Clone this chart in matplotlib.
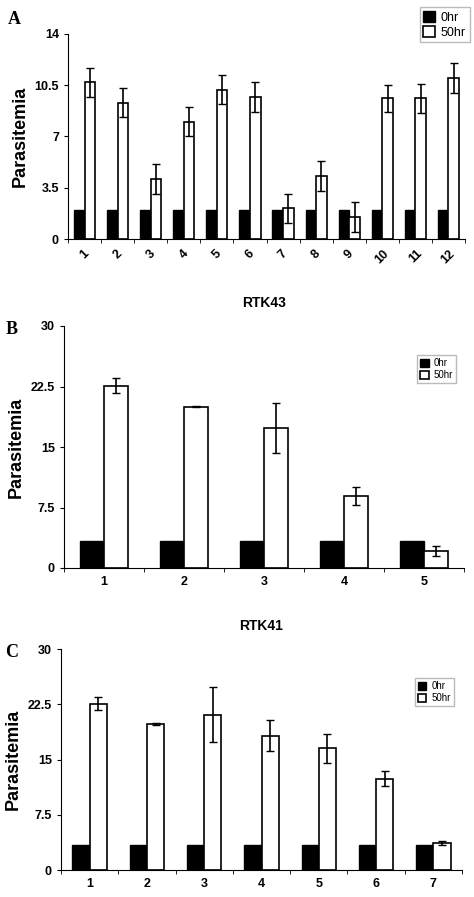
import matplotlib
matplotlib.use("Agg")
import matplotlib.pyplot as plt
import numpy as np

plt.rcParams['font.family'] = ['Liberation Sans', 'DejaVu Sans']

a_labels = [str(i) for i in range(1, 13)]
a_0hr = [2]*12
a_50hr = [10.7, 9.3, 4.1, 8.0, 10.2, 9.7, 2.1, 4.3, 1.5, 9.6, 9.6, 11.0]
a_err = [1.0, 1.0, 1.0, 1.0, 1.0, 1.0, 1.0, 1.0, 1.0, 0.9, 1.0, 1.0]

b_labels = [str(i) for i in range(1, 6)]
b_0hr = [3.3]*5
b_50hr = [22.6, 20.0, 17.3, 8.9, 2.1]
b_err = [0.9, 0.1, 3.1, 1.1, 0.6]

c_labels = [str(i) for i in range(1, 8)]
c_0hr = [3.4]*7
c_50hr = [22.6, 19.8, 21.1, 18.2, 16.5, 12.4, 3.7]
c_err = [0.9, 0.1, 3.7, 2.1, 2.0, 1.0, 0.3]

W, H = 474, 897
fig = plt.figure(figsize=(W/100, H/100), dpi=100)

def panel(rect_px, labels, v0, v50, err, ymax, ticks, letter, letter_px, title, rot, legbox, legfs, w):
    l, t, r, b = rect_px
    ax = fig.add_axes([l/W, 1-b/H, (r-l)/W, (b-t)/H])
    n = len(labels)
    x = np.arange(n)
    ax.bar(x - w/2, v0, w, color='black', edgecolor='black', label='0hr')
    ax.bar(x + w/2, v50, w, color='white', edgecolor='black', linewidth=1.2, label='50hr')
    ax.errorbar(x + w/2, v50, yerr=err, fmt='none', ecolor='black', capsize=3, elinewidth=1.2)
    ax.set_xlim(-0.5, n-0.5)
    ax.set_ylim(0, ymax)
    ax.set_yticks(ticks)
    ax.set_yticklabels([('%g' % v) for v in ticks], fontsize=9, fontweight='bold')
    ax.set_xticks(x)
    ax.set_xticklabels(labels, fontsize=9, fontweight='bold', rotation=rot)
    ax.set_xticks(np.arange(n+1)-0.5, minor=True)
    ax.tick_params(axis='x', which='major', length=0, pad=6)
    ax.tick_params(axis='x', which='minor', length=3)
    ax.tick_params(axis='y', length=3)
    for s in ['top', 'right']:
        ax.spines[s].set_visible(False)
    ax.set_ylabel('Parasitemia', fontsize=13, fontweight='bold')
    fig.text(letter_px[0]/W, 1-letter_px[1]/H, letter, fontsize=13, fontweight='bold',
             family='Liberation Serif', va='center', ha='left')
    if title:
        ax.set_title(title, fontsize=10, fontweight='bold', pad=14)
    ax.legend(loc='upper left', bbox_to_anchor=legbox, fontsize=legfs, frameon=True,
              fancybox=False, edgecolor='#aaaaaa', handlelength=0.9, handleheight=0.9,
              borderpad=0.3, labelspacing=0.2, handletextpad=0.5)
    return ax

panel((68, 34, 465, 239), a_labels, a_0hr, a_50hr, a_err, 14, [0, 3.5, 7, 10.5, 14],
      'A', (8, 20), None, 45, (0.87, 1.16), 9, 0.32)
panel((64, 326, 464, 568), b_labels, b_0hr, b_50hr, b_err, 30, [0, 7.5, 15, 22.5, 30],
      'B', (6, 329), 'RTK43', 0, (0.87, 0.9), 7, 0.3)
panel((61, 649, 462, 870), c_labels, c_0hr, c_50hr, c_err, 30, [0, 7.5, 15, 22.5, 30],
      'C', (5, 652), 'RTK41', 0, (0.87, 0.89), 7, 0.3)

fig.savefig('out.png', dpi=100)
